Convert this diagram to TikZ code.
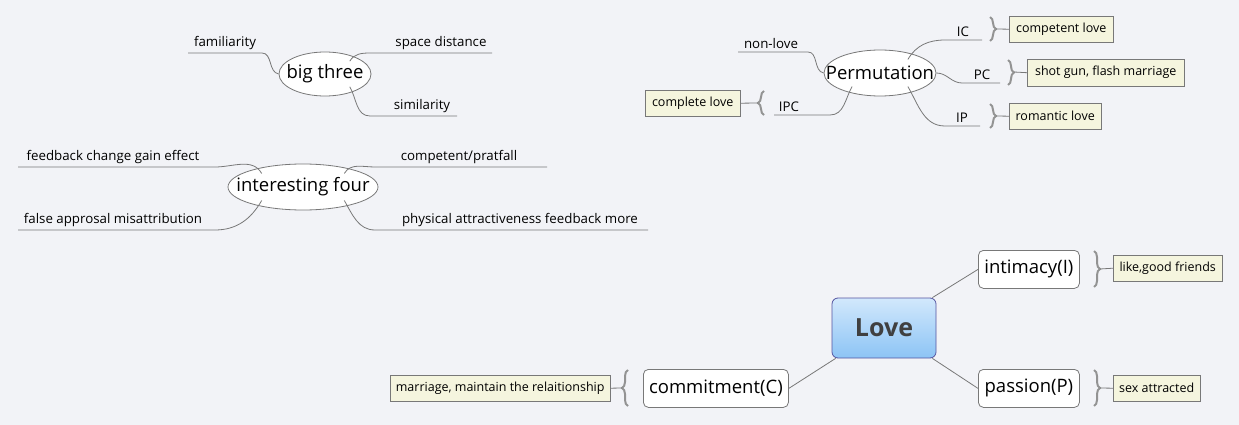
\documentclass[tikz,border=0pt]{standalone}
\usepackage{fontspec}
\setmainfont{Open Sans}
\usetikzlibrary{decorations.pathreplacing,shapes.geometric,calc}
\definecolor{bg}{RGB}{242,243,247}
\definecolor{ln}{RGB}{120,120,120}
\definecolor{notefill}{RGB}{245,245,222}
\definecolor{lovetop}{RGB}{210,232,252}
\definecolor{lovebot}{RGB}{140,196,245}
\tikzset{
  x=1pt,y=-1pt,
  conn/.style={draw=ln,line width=0.8pt},
  lbl/.style={font=\fontsize{13.3}{15}\selectfont,text=black,inner sep=1pt},
  ell/.style={ellipse,draw=ln,fill=white,line width=0.8pt,inner sep=0pt},
  elltext/.style={font=\fontsize{18.5}{21}\selectfont},
  note/.style={draw=ln,fill=notefill,inner sep=0pt,anchor=north west},
  sub/.style={draw=ln,fill=white,rounded corners=5pt,line width=0.8pt,inner sep=0pt,anchor=north west},
  brc/.style={draw=ln!80,line width=2pt,decorate,decoration={brace,amplitude=6pt}},
}
\newcommand{\notebox}[6]{% name, x1,y1,x2,y2,text
  \node[note,minimum width=#4-#2,minimum height=#5-#3] (#1) at (#2,#3) {};
  \node[font=\fontsize{12.5}{14}\selectfont] at (#1.center) {#6};}
\begin{document}
\begin{tikzpicture}
\fill[bg] (0,0) rectangle (1239,425);
\useasboundingbox (0,0) rectangle (1239,425);

% big three
\node[ell,minimum width=92,minimum height=44] (big) at (325,74) {};
\node[elltext] at (big.center) {big three};
\coordinate (f1) at (188,53); \coordinate (f2) at (262,53);
\draw[conn] (f1) -- (f2) to[out=0,in=170] (big.west);
\node[lbl,anchor=south] at (225,51) {familiarity};
\coordinate (s1) at (370,53); \coordinate (s2) at (492,53);
\draw[conn] ([xshift=-8pt,yshift=-3pt]big.north east) to[out=60,in=180] (s1) -- (s2);
\node[lbl,anchor=south] at (441,51) {space distance};
\coordinate (m1) at (370,116); \coordinate (m2) at (457,116);
\draw[conn] ([xshift=-8pt,yshift=3pt]big.south east) to[out=-60,in=180] (m1) -- (m2);
\node[lbl,anchor=south] at (422,114) {similarity};

% interesting four
\node[ell,minimum width=150,minimum height=46] (four) at (303,187) {};
\node[elltext] at (four.center) {interesting four};
\coordinate (a1) at (18,167); \coordinate (a2) at (215,167);
\draw[conn] (a1) -- (a2) to[out=0,in=120] ([xshift=12pt,yshift=-3pt]four.north west);
\node[lbl,anchor=south] at (113,165) {feedback change gain effect};
\coordinate (b1) at (18,230); \coordinate (b2) at (215,230);
\draw[conn] (b1) -- (b2) to[out=0,in=-120] ([xshift=12pt,yshift=3pt]four.south west);
\node[lbl,anchor=south] at (113,228) {false approsal misattribution};
\coordinate (c1) at (375,167); \coordinate (c2) at (547,167);
\draw[conn] ([xshift=-12pt,yshift=-3pt]four.north east) to[out=60,in=180] (c1) -- (c2);
\node[lbl,anchor=south] at (459,165) {competent/pratfall};
\coordinate (d1) at (375,230); \coordinate (d2) at (648,230);
\draw[conn] ([xshift=-12pt,yshift=3pt]four.south east) to[out=-60,in=180] (d1) -- (d2);
\node[lbl,anchor=south] at (520,228) {physical attractiveness feedback more};

% Permutation
\node[ell,minimum width=112,minimum height=46] (perm) at (880,73) {};
\node[elltext] at (perm.center) {Permutation};
\coordinate (n1) at (738,52); \coordinate (n2) at (808,52);
\draw[conn] (n1) -- (n2) to[out=0,in=170] (perm.west);
\node[lbl,anchor=south] at (771,50) {non-love};
\coordinate (ic1) at (945,40); \coordinate (ic2) at (982,40);
\draw[conn] ([xshift=-12pt,yshift=-3pt]perm.north east) to[out=60,in=180] (ic1) -- (ic2);
\node[lbl,anchor=south] at (963,38) {IC};
\coordinate (pc1) at (962,83); \coordinate (pc2) at (1000,83);
\draw[conn] (perm.east) to[out=0,in=180] (pc1) -- (pc2);
\node[lbl,anchor=south] at (982,81) {PC};
\coordinate (ip1) at (945,126); \coordinate (ip2) at (980,126);
\draw[conn] ([xshift=-12pt,yshift=3pt]perm.south east) to[out=-60,in=180] (ip1) -- (ip2);
\node[lbl,anchor=south] at (962,124) {IP};
\coordinate (ipc1) at (774,115); \coordinate (ipc2) at (830,115);
\draw[conn] (ipc1) -- (ipc2) to[out=0,in=-120] ([xshift=12pt,yshift=3pt]perm.south west);
\node[lbl,anchor=south] at (789,113) {IPC};

% notes top right
\notebox{nic}{1009}{16}{1113}{42}{competent love}
\draw[brc] (990,17) -- (990,41);
\draw[ln,line width=0.8pt] (996,29) -- (nic.west);
\notebox{npc}{1027}{59}{1184}{86}{shot gun, flash marriage}
\draw[brc] (1008,60) -- (1008,85);
\draw[ln,line width=0.8pt] (1014,72) -- (npc.west);
\notebox{nip}{1009}{103}{1101}{129}{romantic love}
\draw[brc] (990,104) -- (990,128);
\draw[ln,line width=0.8pt] (996,116) -- (nip.west);
\notebox{nipc}{645}{90}{740}{116}{complete love}
\draw[brc] (764,115) -- (764,91);
\draw[ln,line width=0.8pt] (758,103) -- (nipc.east);

% Love
\node[draw=ln!70!blue,rounded corners=6pt,line width=0.8pt,top color=lovetop,bottom color=lovebot,
  minimum width=104,minimum height=60,font=\fontsize{25}{28}\selectfont\bfseries,text=black!75] (love) at (884,328) {Love};
\node[sub,minimum width=101,minimum height=38] (int) at (978,250) {};
\node[font=\fontsize{18.5}{21}\selectfont] at (int.center) {intimacy(I)};
\node[sub,minimum width=101,minimum height=38] (pas) at (978,369) {};
\node[font=\fontsize{18.5}{21}\selectfont] at (pas.center) {passion(P)};
\node[sub,minimum width=145,minimum height=38] (com) at (643,369) {};
\node[font=\fontsize{18.5}{21}\selectfont] at (com.center) {commitment(C)};
\draw[conn] ([xshift=-4pt]love.north east) -- (int.west);
\draw[conn] ([xshift=-4pt]love.south east) -- (pas.west);
\draw[conn] ([xshift=4pt]love.south west) -- (com.east);

\notebox{nint}{1113}{255}{1222}{281}{like,good friends}
\draw[brc] (1094,251) -- (1094,287);
\draw[ln,line width=0.8pt] (1100,269) -- (nint.west);
\notebox{npas}{1113}{375}{1200}{401}{sex attracted}
\draw[brc] (1094,370) -- (1094,406);
\draw[ln,line width=0.8pt] (1100,388) -- (npas.west);
\notebox{ncom}{390}{375}{610}{401}{marriage, maintain the relaitionship}
\draw[brc] (628,406) -- (628,370);
\draw[ln,line width=0.8pt] (622,388) -- (ncom.east);
\end{tikzpicture}
\end{document}
